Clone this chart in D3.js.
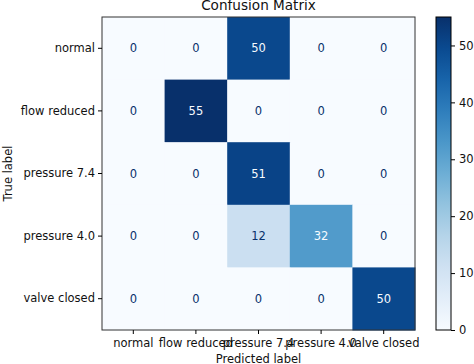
<!DOCTYPE html>
<html>
<head>
<meta charset="utf-8">
<script src="https://cdn.jsdelivr.net/npm/d3@7"></script>
<style>
  body { margin: 0; background: #fff; }
  svg { display: block; font-family: "DejaVu Sans", sans-serif; }
</style>
</head>
<body>
<svg width="474" height="364"></svg>
<script>
// class names, same order for rows (true) and columns (predicted)
let labels = ['normal', 'flow reduced', 'pressure 7.4', 'pressure 4.0', 'valve closed']

// one array per true label row
let rowNormal = [0, 0, 50, 0, 0]
let rowFlowReduced = [0, 55, 0, 0, 0]
let rowPressure74 = [0, 0, 51, 0, 0]
let rowPressure40 = [0, 0, 12, 32, 0]
let rowValveClosed = [0, 0, 0, 0, 50]

let colorbarTicks = [0, 10, 20, 30, 40, 50]

let matrix = [rowNormal, rowFlowReduced, rowPressure74, rowPressure40, rowValveClosed]

let svg = d3.select('svg')
let plotLeft = 102, plotTop = 17, size = 313
let maxVal = d3.max(matrix, r => d3.max(r))

let x = d3.scaleBand().domain(labels).range([plotLeft, plotLeft + size])
let y = d3.scaleBand().domain(labels).range([plotTop, plotTop + size])
let color = d3.scaleSequential(d3.interpolateBlues).domain([0, maxVal])

let cells = []
matrix.forEach((row, i) => row.forEach((v, j) => cells.push({ t: labels[i], p: labels[j], v: v })))

svg.append('g')
    .selectAll('rect')
    .data(cells)
    .enter().append('rect')
    .attr('x', d => x(d.p))
    .attr('y', d => y(d.t))
    .attr('width', x.bandwidth() + 0.5)
    .attr('height', y.bandwidth() + 0.5)
    .attr('fill', d => color(d.v))

let thresh = maxVal / 2
svg.append('g')
    .selectAll('text')
    .data(cells)
    .enter().append('text')
    .attr('x', d => x(d.p) + x.bandwidth() / 2)
    .attr('y', d => y(d.t) + y.bandwidth() / 2)
    .attr('dy', '0.35em')
    .attr('text-anchor', 'middle')
    .attr('font-size', 11.5)
    .attr('fill', d => d.v > thresh ? color(0) : color(maxVal))
    .text(d => d.v)

// frame
svg.append('rect')
    .attr('x', plotLeft).attr('y', plotTop)
    .attr('width', size).attr('height', size)
    .attr('fill', 'none').attr('stroke', '#333').attr('stroke-width', 1)

let xAxis = svg.append('g')
    .attr('transform', `translate(0,${plotTop + size})`)
    .call(d3.axisBottom(x).tickSize(4).tickPadding(5))
let yAxis = svg.append('g')
    .attr('transform', `translate(${plotLeft},0)`)
    .call(d3.axisLeft(y).tickSize(4).tickPadding(3))

;[xAxis, yAxis].forEach(g => {
    g.select('.domain').remove()
    g.selectAll('line').attr('stroke', '#000')
    g.selectAll('text').attr('font-size', 11.5).attr('fill', '#111')
        .attr('font-family', '"DejaVu Sans", sans-serif')
})

svg.append('text')
    .attr('x', plotLeft + size / 2).attr('y', 10)
    .attr('text-anchor', 'middle')
    .attr('font-size', 13.6)
    .attr('fill', '#111')
    .text('Confusion Matrix')

svg.append('text')
    .attr('x', plotLeft + size / 2).attr('y', 363)
    .attr('text-anchor', 'middle')
    .attr('font-size', 11.5)
    .attr('fill', '#111')
    .text('Predicted label')

svg.append('text')
    .attr('transform', `translate(12,${plotTop + size / 2}) rotate(-90)`)
    .attr('text-anchor', 'middle')
    .attr('font-size', 11.5)
    .attr('fill', '#111')
    .text('True label')

// colorbar
let cbX = 436, cbW = 15
let cbScale = d3.scaleLinear().domain([0, maxVal]).range([plotTop + size, plotTop])
let defs = svg.append('defs')
let grad = defs.append('linearGradient')
    .attr('id', 'cb').attr('x1', 0).attr('y1', 1).attr('x2', 0).attr('y2', 0)
d3.range(0, 1.0001, 0.1).forEach(t => {
    grad.append('stop').attr('offset', t).attr('stop-color', color(t * maxVal))
})
svg.append('rect')
    .attr('x', cbX).attr('y', plotTop)
    .attr('width', cbW).attr('height', size)
    .attr('fill', 'url(#cb)')
    .attr('stroke', '#000').attr('stroke-width', 1)

let cbAxis = svg.append('g')
    .attr('transform', `translate(${cbX + cbW},0)`)
    .call(d3.axisRight(cbScale).tickValues(colorbarTicks).tickSize(4).tickPadding(4))
cbAxis.select('.domain').remove()
cbAxis.selectAll('line').attr('stroke', '#000')
cbAxis.selectAll('text').attr('font-size', 11.5).attr('fill', '#111')
    .attr('font-family', '"DejaVu Sans", sans-serif')
</script>
</body>
</html>
